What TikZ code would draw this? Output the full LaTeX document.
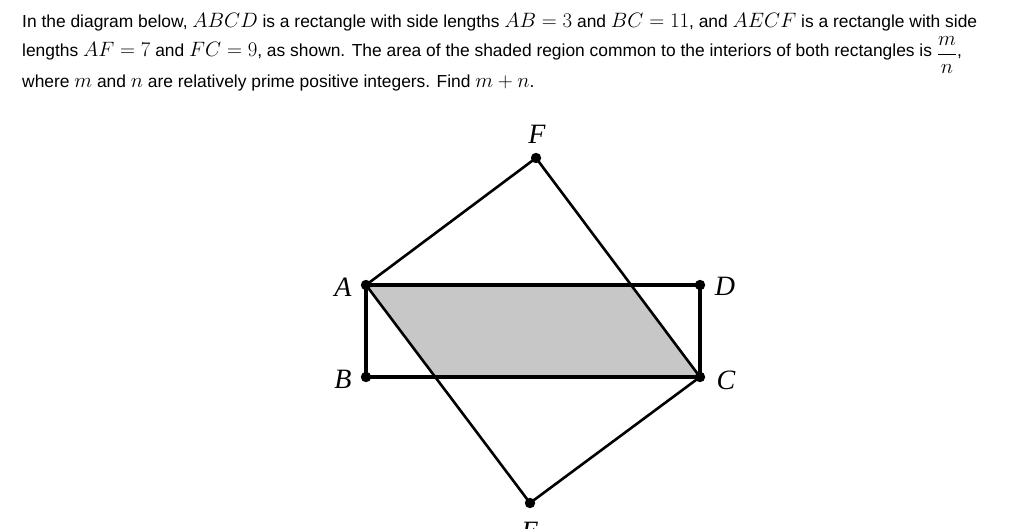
\IfFileExists{fix-cm.sty}{\RequirePackage{fix-cm}}{}
\documentclass[tikz,border=0pt]{standalone}
\usepackage{amsmath}
\usepackage{fontspec}
\setmainfont{Liberation Sans}
\newfontfamily\labfont{Liberation Serif}
\DeclareMathSizes{17.4}{20.8}{15}{11}
\begin{document}
\begin{tikzpicture}[x=1pt,y=-1pt,
  txt/.style={anchor=base west,inner sep=0pt,font=\fontsize{17.4}{21}\selectfont},
  lab/.style={font=\fontsize{28}{30}\labfont\itshape,inner sep=0pt},
  rectA/.style={line width=3.6pt},
  rectB/.style={line width=2.6pt,line join=miter},
  dot/.style={fill=black}]
\useasboundingbox (0,0) rectangle (1024,529);
\begin{scope}
\clip (0,0) rectangle (1024,529);
% text
\node[txt] (l1) at (22,28) {In the diagram below, $ABCD$ is a rectangle with side lengths $AB=3$ and $BC=11$, and $AECF$ is a rectangle with side};
\node[txt] (l2) at (22,57) {lengths $AF=7$ and $FC=9$, as shown. The area of the shaded region common to the interiors of both rectangles is \raisebox{-2.5pt}{$\dfrac{m}{n}$},};
\node[txt] (l3) at (22,88) {where $m$ and $n$ are relatively prime positive integers. Find $m+n$.};
% points
\coordinate (A) at (366,285);
\coordinate (B) at (366,377);
\coordinate (C) at (700,377);
\coordinate (D) at (700,285);
\coordinate (F) at (536,158);
\coordinate (E) at (530,503);
\coordinate (P) at (intersection of F--C and A--D);
\coordinate (Q) at (intersection of A--E and B--C);
% shaded region
\fill[black!22] (A) -- (P) -- (C) -- (Q) -- cycle;
% rectangles
\draw[rectB] (A) -- (E) -- (C) -- (F) -- cycle;
\draw[rectA] (A) -- (B) -- (C) -- (D) -- cycle;
% dots
\foreach \p in {A,B,C,D,E,F} \fill[dot] (\p) circle (5.2);
% labels
\node[lab] (lF) at (537,134) {F};
\node[lab] (lA) at (343,287) {A};
\node[lab] (lD) at (725,286) {D};
\node[lab] (lB) at (343,379) {B};
\node[lab] (lC) at (726,380) {C};
\node[lab] (lE) at (530,531) {E};
\end{scope}
\end{tikzpicture}
\end{document}
